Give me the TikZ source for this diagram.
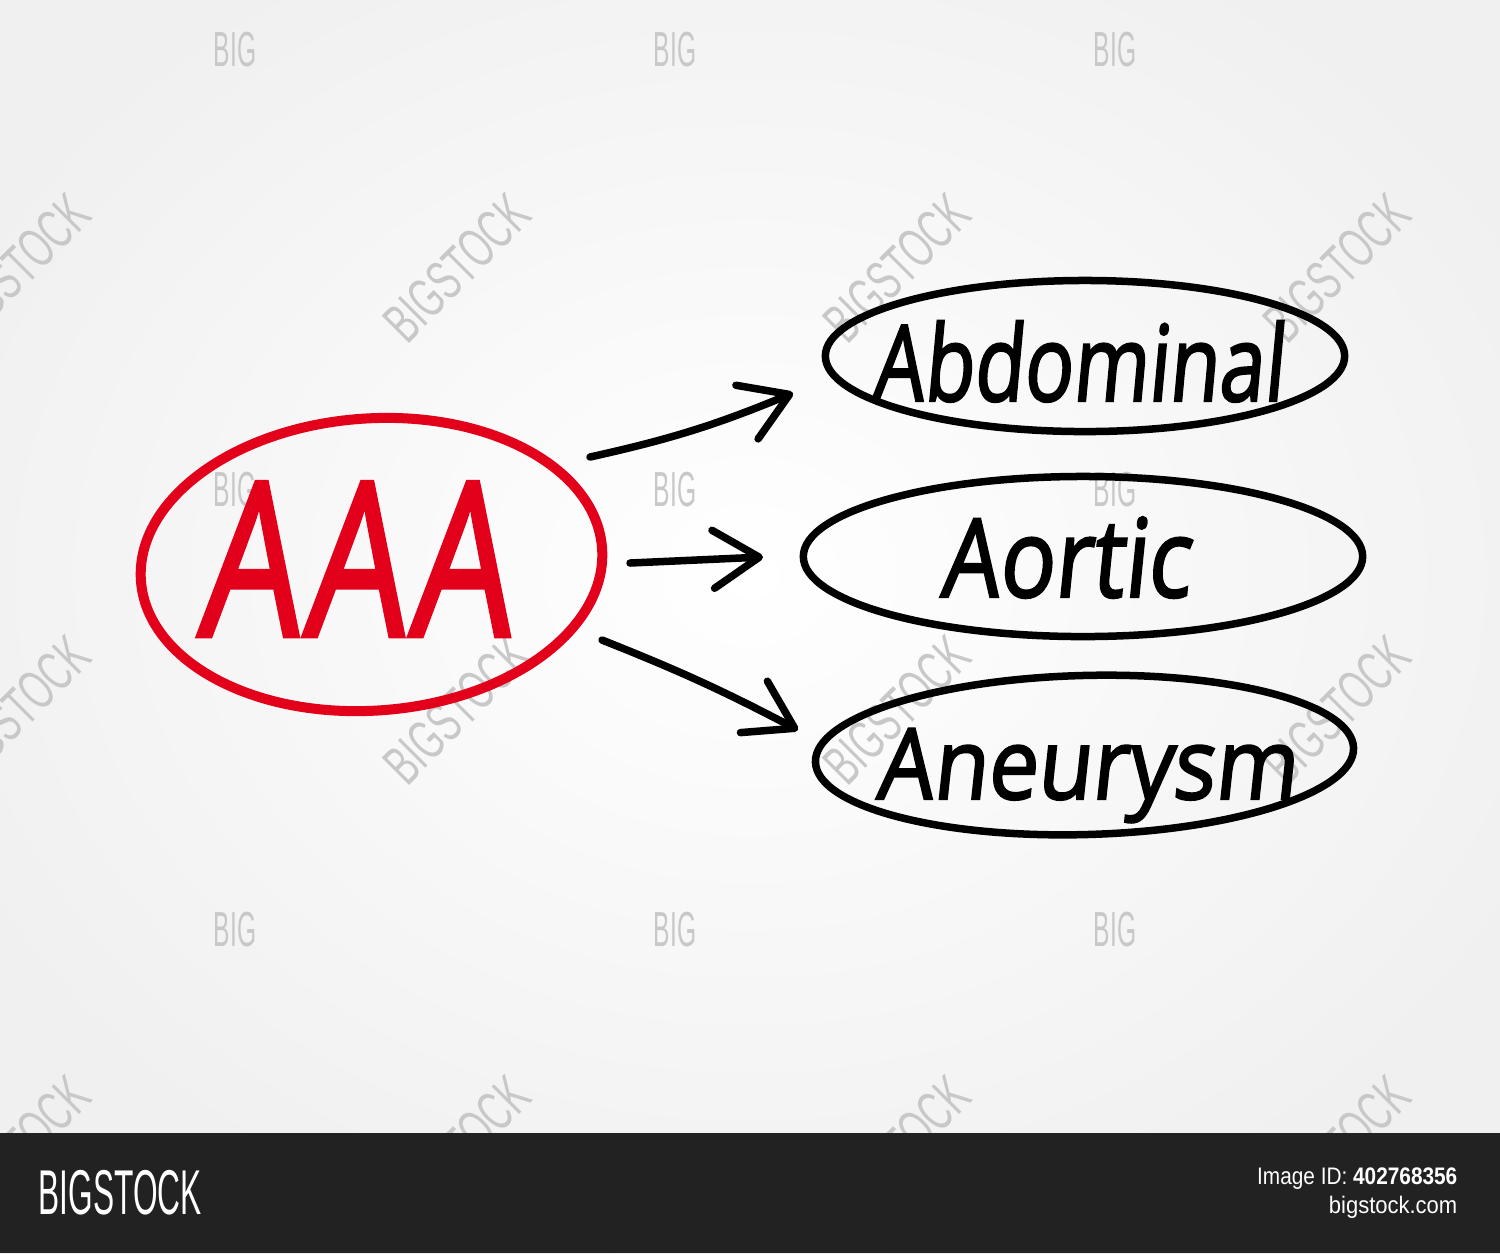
\documentclass[tikz,border=0pt]{standalone}
\usepackage{fontspec}
\usepackage{graphicx}
\setmainfont{Open Sans}
\newfontfamily\hand[FakeSlant=0.12,FakeBold=2.2]{Open Sans}
\newfontfamily\wmfont{Liberation Sans}
\usetikzlibrary{shapes.geometric,arrows.meta,calc}
\definecolor{aaared}{HTML}{E2001A}
\definecolor{barbg}{HTML}{222222}
\definecolor{wmgray}{HTML}{C8C8C8}
\begin{document}
\begin{tikzpicture}[x=0.01cm,y=-0.01cm,
  oval/.style={ellipse, draw=black, line width=0.075cm, inner sep=0pt},
  redoval/.style={ellipse, draw=aaared, line width=0.1cm, inner sep=0pt},
  lbl/.style={anchor=base, inner sep=0pt, text=black},
  arr/.style={line width=0.075cm, line cap=round, draw=black,
    -{Straight Barb[length=4.6mm,width=5.8mm,round]}},
  wmbig/.style={inner sep=0pt, text=wmgray, font=\wmfont\fontsize{14}{14}\selectfont},
  wmstock/.style={inner sep=0pt, text=wmgray, rotate=45, font=\wmfont\fontsize{16}{16}\selectfont}
]
\useasboundingbox (0,0) rectangle (1500,1253);
\clip (0,0) rectangle (1500,1253);
% background
\shade[inner color=white, outer color=black!6] (-150,-150) rectangle (1650,1300);

% watermarks
\foreach \wx in {235,675,1115}{
  \foreach \wy in {50,490,930}{
    \node[wmbig] (big-\wx-\wy) at (\wx,\wy) {\scalebox{0.5}[1]{BIG}};
  }
}
\foreach \sx in {17,457,897,1337}{
  \foreach \sy in {268,710,1150}{
    \node[wmstock] (stk-\sx-\sy) at (\sx,\sy) {\scalebox{0.62}[1]{BIGSTOCK}};
  }
}

% main ellipses
\node[redoval, rotate=4, minimum width=4.62cm, minimum height=2.92cm] (aaa) at (371.5,564.5) {};
\node[oval, minimum width=5.19cm, minimum height=1.51cm] (abd) at (1085,356) {};
\node[oval, minimum width=5.59cm, minimum height=1.60cm] (aor) at (1083,556.5) {};
\node[oval, rotate=1.5, minimum width=5.38cm, minimum height=1.59cm] (ane) at (1084.5,755) {};

% texts
\node[lbl, text=aaared] (aaat) at (353.5,636) {\hand\fontsize{61}{61}\selectfont\scalebox{0.74}[1]{A\kern2pt A\kern2pt A}};
\node[lbl] (abdt) at (1077.5,401) {\hand\fontsize{30}{30}\selectfont\scalebox{0.77}[1]{Abdominal}};
\node[lbl] (aort) at (1065,597) {\hand\fontsize{31}{31}\selectfont\scalebox{0.84}[1]{Aortic}};
\node[lbl] (anet) at (1086,799) {\hand\fontsize{28}{28}\selectfont\scalebox{0.9}[1]{Aneurysm}};

% connectors
\draw[arr] ($(aaa.center)+(218.5,-107.5)$) to[bend right=5] ($(abd.center)+(-292,37)$);
\draw[arr] ($(aaa.center)+(258.5,-1.5)$) -- ($(aor.center)+(-320,0.5)$);
\draw[arr] ($(aaa.center)+(230.5,75.5)$) to[bend left=3] ($(ane.center)+(-286.5,-25)$);

% bottom bar
\fill[barbg] (0,1133) rectangle (1500,1253);
\node[anchor=west, inner sep=0pt, text=white] (brand) at (38,1193)
  {\wmfont\fontsize{18}{18}\selectfont\scalebox{0.5}[1]{BIGSTOCK}};
\node[anchor=base east, inner sep=0pt, text=white] (imgid) at (1458,1184)
  {\wmfont\fontsize{6.8}{6.8}\selectfont\scalebox{0.87}[1]{Image ID: \textbf{402768356}}};
\node[anchor=base east, inner sep=0pt, text=white] (site) at (1458,1213)
  {\wmfont\fontsize{6.8}{6.8}\selectfont\scalebox{0.92}[1]{bigstock.com}};
\end{tikzpicture}
\end{document}
